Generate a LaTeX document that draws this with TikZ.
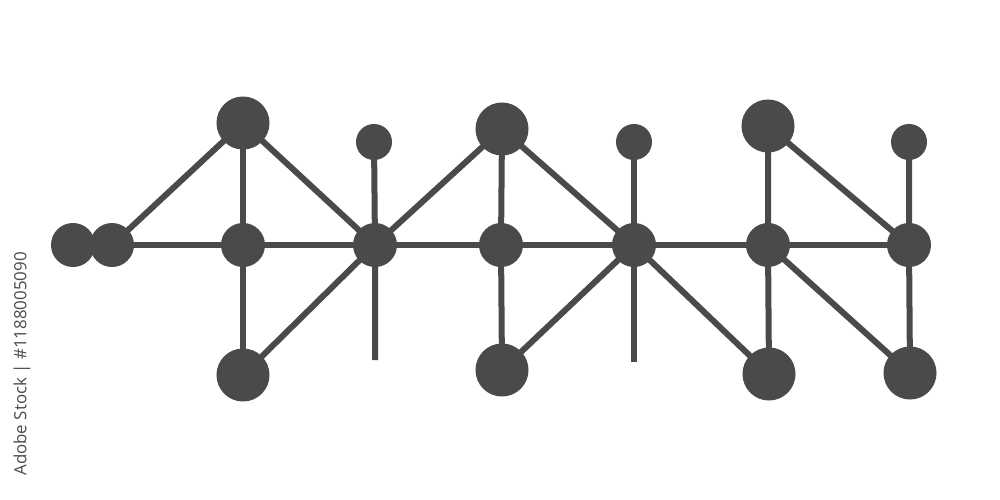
\documentclass[tikz,border=0pt]{standalone}
\usepackage{fontspec}
\newfontfamily\wmfont{Open Sans}
\usetikzlibrary{backgrounds}
\definecolor{ink}{HTML}{4A4A4A}
\begin{document}
\begin{tikzpicture}[x=0.01cm,y=-0.01cm,
  dotbig/.style={circle,fill=ink,inner sep=0pt,minimum size=0.53cm},
  dotmid/.style={circle,fill=ink,inner sep=0pt,minimum size=0.44cm},
  dotsmall/.style={circle,fill=ink,inner sep=0pt,minimum size=0.36cm},
  link/.style={draw=ink,line width=0.06cm}]
\useasboundingbox (0,0) rectangle (1000,500);
% nodes
\node[dotmid] (L0) at (73,245) {};
\node[dotmid] (L1) at (112,245) {};
\node[dotbig] (A1) at (243,123) {};
\node[dotmid] (B1) at (243,245) {};
\node[dotbig] (C1) at (243,375) {};
\node[dotsmall] (D1) at (374,142) {};
\node[dotmid] (E1) at (375,245) {};
\coordinate (F1) at (375,360);
\node[dotbig] (A2) at (502,129) {};
\node[dotmid] (B2) at (501,245) {};
\node[dotbig] (C2) at (502,370) {};
\node[dotsmall] (D2) at (634,142) {};
\node[dotmid] (E2) at (634,245) {};
\coordinate (F2) at (634,362);
\node[dotbig] (A3) at (768,126) {};
\node[dotmid] (B3) at (768,245) {};
\node[dotbig] (C3) at (769,374) {};
\node[dotsmall] (D3) at (909,142) {};
\node[dotmid] (E3) at (909,245) {};
\node[dotbig] (C4) at (910,373) {};
\node[rotate=90,text=ink,inner sep=0pt,font=\wmfont\fontsize{4.8}{5.5}\selectfont] (wm) at (22,364) {Adobe Stock | \#1188005090};
\begin{scope}[on background layer]
\fill[white] (0,0) rectangle (1000,500);
\draw[link] (L1.center) -- (B1.center) -- (E1.center) -- (B2.center) -- (E2.center) -- (B3.center) -- (E3.center);
\draw[link] (L1.center) -- (A1.center);
\draw[link] (A1.center) -- (B1.center) -- (C1.center);
\draw[link] (A1.center) -- (E1.center);
\draw[link] (C1.center) -- (E1.center);
\draw[link] (D1.center) -- (E1.center) -- (F1);
\draw[link] (E1.center) -- (A2.center);
\draw[link] (A2.center) -- (B2.center) -- (C2.center);
\draw[link] (A2.center) -- (E2.center);
\draw[link] (C2.center) -- (E2.center);
\draw[link] (D2.center) -- (E2.center) -- (F2);
\draw[link] (E2.center) -- (C3.center);
\draw[link] (A3.center) -- (B3.center) -- (C3.center);
\draw[link] (A3.center) -- (E3.center);
\draw[link] (B3.center) -- (C4.center);
\draw[link] (D3.center) -- (E3.center) -- (C4.center);
\end{scope}
\end{tikzpicture}
\end{document}
